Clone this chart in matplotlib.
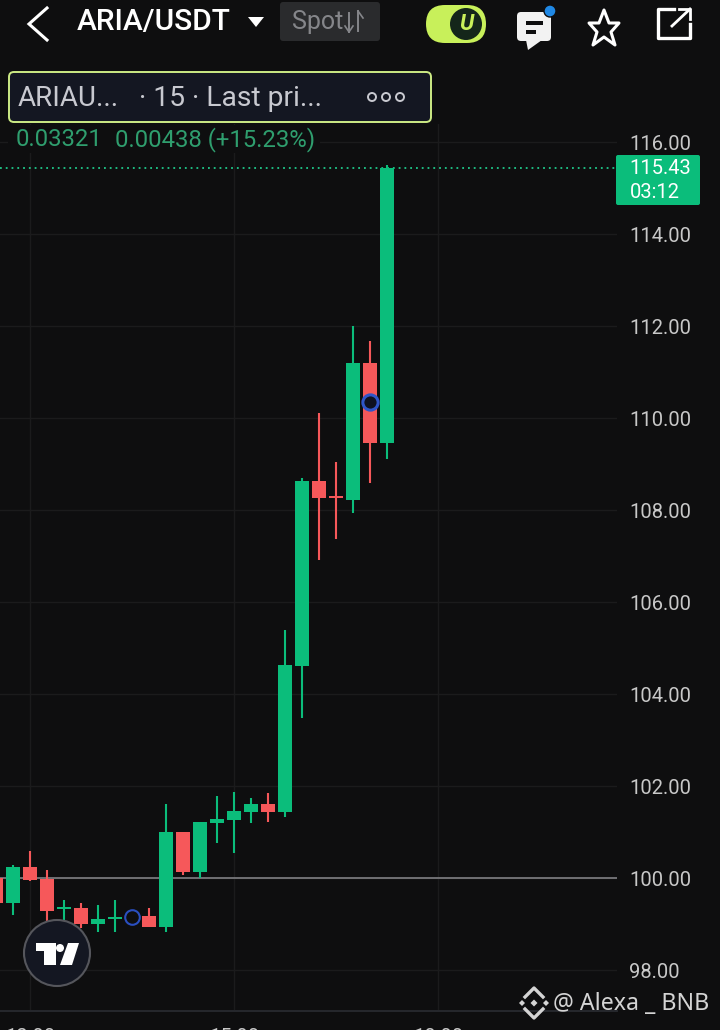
import matplotlib
matplotlib.use('Agg')
import matplotlib.pyplot as plt
from matplotlib.patches import Circle, FancyBboxPatch, Polygon, Rectangle

plt.rcParams['font.family'] = ['Roboto', 'DejaVu Sans']

############################## data ###########################################
# 15 minute candles, index 0 is the 12:00 candle
idx    = list(range(-2, 22))
opens  = [100.00, 99.457, 100.239, 99.978, 99.33, 99.348, 99.00, 99.11, 99.15, 99.174, 98.935, 101.00,
          100.13, 101.196, 101.261, 101.435, 101.609, 101.435, 104.609, 108.63, 108.30, 108.217, 111.196, 109.457]
closes = [99.457, 100.239, 99.957, 99.283, 99.37, 99.00, 99.109, 99.15, 99.15, 98.935, 101.00, 100.13,
          101.217, 101.283, 101.457, 101.609, 101.435, 104.63, 108.63, 108.261, 108.26, 111.196, 109.457, 115.435]
highs  = [100.00, 100.283, 100.587, 100.174, 99.522, 99.457, 99.413, 99.522, 99.15, 99.348, 101.609, 101.00,
          101.217, 101.783, 101.87, 101.739, 101.848, 105.39, 108.696, 110.109, 109.043, 112.00, 111.674, 115.50]
lows   = [99.457, 99.196, 99.935, 98.804, 98.804, 98.913, 98.826, 98.826, 99.15, 98.935, 98.826, 100.065,
          100.00, 100.761, 100.543, 101.196, 101.217, 101.326, 103.478, 106.913, 107.37, 107.935, 108.587, 109.109]

price_ticks = [98, 100, 102, 104, 106, 108, 110, 112, 114, 116]
price_labels = ['98.00', '100.00', '102.00', '104.00', '106.00', '108.00', '110.00', '112.00', '114.00', '116.00']
time_ticks = [0, 12, 24]
time_labels = ['12:00', '15:00', '18:00']
last_price = 115.43
ref_price = 100.0
markers = [(6, 99.15), (20, 110.35)]

GREEN = '#0bbd7b'
RED = '#f6585a'
BG = '#0e0e0f'
GRID = '#1b1b1c'
GREY = '#c8c8c8'

################################ figure #######################################
fig = plt.figure(figsize=(7.2, 10.3), dpi=100, facecolor=BG)

# price pane, 617 px wide, from y=124 to y=1011 px
ax = fig.add_axes([0, 1 - 1011 / 1030, 617 / 720, (1011 - 124) / 1030], facecolor=BG)
ax.set_xlim(-30 / 17, (617 - 30) / 17)
ax.set_ylim(116 - (1011 - 142) / 46, 116 + (142 - 124) / 46)
for s in ax.spines.values():
    s.set_visible(False)
ax.spines['bottom'].set_visible(True)
ax.spines['bottom'].set_color('#26282d')
ax.spines['bottom'].set_linewidth(1.4)

ax.set_yticks(price_ticks)
ax.set_yticklabels(price_labels)
ax.set_xticks(time_ticks)
ax.set_xticklabels(time_labels)
ax.yaxis.tick_right()
ax.tick_params(axis='y', length=0, pad=9, labelsize=14.5, labelcolor=GREY)
# the time labels are cut by the bottom edge in the screenshot
ax.tick_params(axis='x', length=0, pad=12.5, labelsize=14.5, labelcolor=GREY)
ax.grid(True, color=GRID, lw=1.0)
ax.set_axisbelow(True)

ax.axhline(ref_price, color='#77777b', lw=1.3, zorder=1)
ax.axhline(last_price, color='#1fc98a', lw=1.3, ls=(0, (1, 2.2)), zorder=1)

colors = [GREEN if c >= o else RED for o, c in zip(opens, closes)]
ax.vlines(idx, lows, highs, colors=colors, lw=1.5, zorder=2)
bottoms = [min(o, c) for o, c in zip(opens, closes)]
heights = [abs(o - c) for o, c in zip(opens, closes)]
ax.bar(idx, heights, bottom=bottoms, width=0.84, color=colors, linewidth=0, zorder=3)

ax.plot(markers[0][0], markers[0][1], 'o', ms=10.5, mfc=BG, mec='#2a4fc0', mew=1.5, zorder=4)
ax.plot(markers[1][0], markers[1][1], 'o', ms=11, mfc='#0e1120', mec='#2f55c8', mew=2.2, zorder=4)

############################## overlay in pixels ##############################
ov = fig.add_axes([0, 0, 1, 1], facecolor='none')
ov.set_xlim(0, 720)
ov.set_ylim(1030, 0)
ov.axis('off')

# header
ov.plot([47, 29, 47], [8, 24, 40], color='white', lw=2.2, solid_joinstyle='miter')
ov.text(77, 22, 'ARIA/USDT', color='white', fontsize=21.5, fontweight='medium', va='center', ha='left')
ov.add_patch(Polygon([[248, 17], [264, 17], [256, 27]], closed=True, fc='white', ec='none'))
ov.add_patch(FancyBboxPatch((280, 2), 100, 39, boxstyle='round,pad=0,rounding_size=3', fc='#2a2b2d', ec='none'))
ov.text(292, 22, 'Spot', color='#85868a', fontsize=18, va='center', ha='left')
ov.plot([349, 349], [13, 32], color='#85868a', lw=1.4)
ov.plot([345, 349, 353], [26, 32, 26], color='#85868a', lw=1.2)
ov.plot([358, 358], [11, 31], color='#85868a', lw=1.4)
ov.plot([358, 363], [11, 18], color='#85868a', lw=1.2)

# U toggle
ov.add_patch(FancyBboxPatch((426, 5), 60, 38, boxstyle='round,pad=0,rounding_size=19', fc='#c8f05a', ec='none'))
ov.add_patch(Circle((466, 24), 16, fc='#14261a', ec='none'))
ov.text(466, 24.5, 'U', color='#c8f05a', fontsize=16, fontweight='bold', style='italic', ha='center', va='center')

# chat icon
ov.add_patch(FancyBboxPatch((517, 12), 34, 29, boxstyle='round,pad=0,rounding_size=4', fc='#f2f2f2', ec='none'))
ov.add_patch(Polygon([[526, 40], [542, 40], [528, 50]], closed=True, fc='#f2f2f2', ec='none'))
ov.add_patch(Rectangle((526, 21), 17, 3.5, fc=BG, ec='none'))
ov.add_patch(Rectangle((526, 30), 10, 3.5, fc=BG, ec='none'))
ov.add_patch(Circle((550, 11), 6, fc='#1f88e5', ec=BG, lw=1))

# star icon
ov.add_patch(Polygon([[604, 10], [609, 23], [619, 23], [611, 32], [615, 45], [604, 37], [593, 45], [597, 32], [589, 23], [599, 23]],
                     closed=True, fc='none', ec='white', lw=2.2, joinstyle='round'))

# share icon
ov.plot([674, 658, 658, 690, 690], [9, 9, 38, 38, 24], color='white', lw=2.4, solid_joinstyle='round')
ov.plot([672, 690], [26, 9], color='white', lw=2.0)
ov.plot([679, 690, 690], [9, 9, 19], color='white', lw=2.0)

# legend box
ov.add_patch(FancyBboxPatch((9, 72), 422, 50, boxstyle='round,pad=0,rounding_size=5', fc='#141722', ec='#cdeb85', lw=1.4))
ov.text(18, 98, 'ARIAU...', color='#c8c9d0', fontsize=20, va='center', ha='left')
ov.text(139, 98, '· 15 · Last pri...', color='#c8c9d0', fontsize=20.3, va='center', ha='left')
for cx in [372, 386, 400]:
    ov.add_patch(Circle((cx, 97), 4, fc='none', ec='#c8c9d0', lw=1.4))

ov.add_patch(Rectangle((8, 125), 312, 28, fc=BG, ec='none'))
ov.text(16, 140, '0.03321', color='#2f9e6e', fontsize=17.2, va='center', ha='left')
ov.text(115, 140, '0.00438 (+15.23%)', color='#2f9e6e', fontsize=17.2, va='center', ha='left')

# last price tag
ov.add_patch(FancyBboxPatch((616, 155), 84, 50, boxstyle='round,pad=0,rounding_size=2', fc='#0bbd7b', ec='none'))
ov.text(660, 169, '115.43', color='white', fontsize=14.5, ha='center', va='center')
ov.text(655, 192, '03:12', color='white', fontsize=14.5, ha='center', va='center')

# TradingView badge
ov.add_patch(Circle((57, 953), 33, fc='#141722', ec='#55565c', lw=1.5))
ov.add_patch(Polygon([[36, 943], [56, 943], [56, 965], [44, 965], [44, 951], [36, 951]], closed=True, fc='white', ec='none'))
ov.add_patch(Circle((60, 948), 4, fc='white', ec='none'))
ov.add_patch(Polygon([[68, 943], [79, 943], [72, 965], [60, 965]], closed=True, fc='white', ec='none'))

# watermark
WM = '#d4d4d4'
for dx, dy, r in [(534, 1003, 3.5), (522, 1003, 3), (546, 1003, 3)]:
    ov.add_patch(Polygon([[dx - r, dy], [dx, dy - r], [dx + r, dy], [dx, dy + r]], closed=True, fc=WM, ec='none'))
ov.plot([525, 534, 543], [997, 988, 997], color=WM, lw=2.4)
ov.plot([525, 534, 543], [1009, 1018, 1009], color=WM, lw=2.4)
ov.text(553, 1004, '@ Alexa _ BNB', color=WM, fontsize=16.7, family=['Noto Sans', 'DejaVu Sans'], va='center', ha='left')

fig.savefig('out.png', dpi=100, facecolor=BG)
